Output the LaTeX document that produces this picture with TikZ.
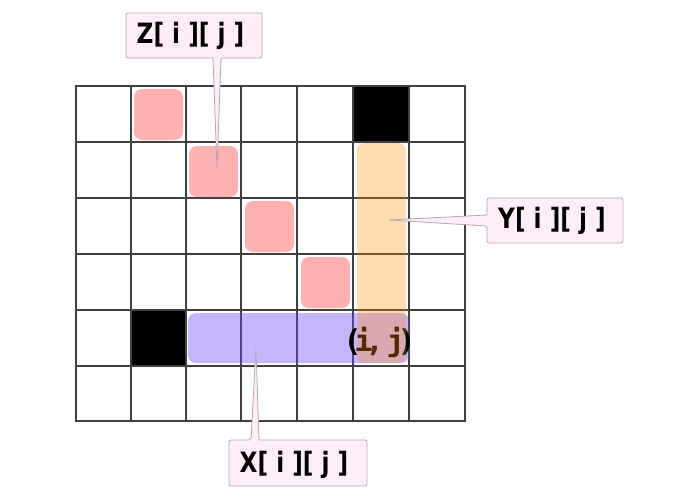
\documentclass[tikz,border=0pt]{standalone}
\usepackage{fontspec}
\newfontfamily\labfont{DejaVu Sans Bold}
\newfontfamily\ijfont{DejaVu Sans Mono Bold}
\newcommand{\cbx}[2]{\makebox[#1pt][c]{#2}}
\definecolor{gridc}{RGB}{64,64,64}
\definecolor{pinkc}{RGB}{255,177,178}
\definecolor{bluec}{RGB}{115,67,255}
\definecolor{orangec}{RGB}{255,145,0}
\definecolor{callfill}{RGB}{255,238,248}
\definecolor{callline}{RGB}{180,165,180}
\begin{document}
\begin{tikzpicture}[x=1pt,y=-1pt,
  gridline/.style={draw=gridc, line width=2pt, line cap=rect},
  zcell/.style={fill=pinkc, rounded corners=8pt},
  blkcell/.style={fill=black},
  callout/.style={fill=callfill, draw=callline, line width=0.8pt, line join=round},
  lab/.style={font=\labfont\fontsize{28}{28}\selectfont, text=black, inner sep=0pt, anchor=base},
  ijlab/.style={font=\ijfont\fontsize{30}{30}\selectfont, text=black, inner sep=0pt, anchor=base west}
]
\useasboundingbox (0,0) rectangle (673,504);
% black cells
\fill[blkcell] (353,86) rectangle (409,142);
\fill[blkcell] (131,310) rectangle (186,366);
% diagonal pink cells
\fill[zcell] (134,89) rectangle (183,140);
\fill[zcell] (189,146) rectangle (238,197);
\fill[zcell] (245,201) rectangle (294,252);
\fill[zcell] (301,257) rectangle (350,308);
% grid
\foreach \x in {76,131,186,241,297,353,409,465} \draw[gridline] (\x,86) -- (\x,421);
\foreach \y in {86,142,198,254,310,366,421} \draw[gridline] (76,\y) -- (465,\y);
% row band (X)
\fill[fill=bluec, fill opacity=0.4, rounded corners=8pt] (188,313) rectangle (409,363);
\node[ijlab] (ij) at (347.5,351) {\cbx{10}{(}\cbx{12}{i}\cbx{10}{,}\cbx{10}{ }\cbx{12}{j}\cbx{10}{)}};
% column band (Y)
\fill[fill=orangec, fill opacity=0.31, rounded corners=8pt] (357,143) rectangle (406,363);
% tips
\coordinate (ztip) at (217,169);
\coordinate (ytip) at (389,220);
\coordinate (xtip) at (256,348);
% callouts
\path[callout, rounded corners=2pt] (126,13) -- (262,13) -- (262,58) -- (221,58) [sharp corners] -- (ztip) -- (213,58) [rounded corners=2pt] -- (126,58) -- cycle;
\node[lab] (zlab) at (190.5,43.5) {\scalebox{0.83}[1]{Z[ i ][ j ]}};
\path[callout, rounded corners=2pt] (487,198) -- (623,198) -- (623,243) -- (487,243) -- (487,226) [sharp corners] -- (ytip) -- (487,215) [rounded corners=2pt] -- cycle;
\node[lab] (ylab) at (552,228.7) {\scalebox{0.83}[1]{Y[ i ][ j ]}};
\path[callout, rounded corners=2pt] (229,440) -- (251,440) [sharp corners] -- (xtip) -- (259,440) [rounded corners=2pt] -- (367,440) -- (367,486) -- (229,486) -- cycle;
\node[lab] (xlab) at (294,472) {\scalebox{0.83}[1]{X[ i ][ j ]}};
\end{tikzpicture}
\end{document}
